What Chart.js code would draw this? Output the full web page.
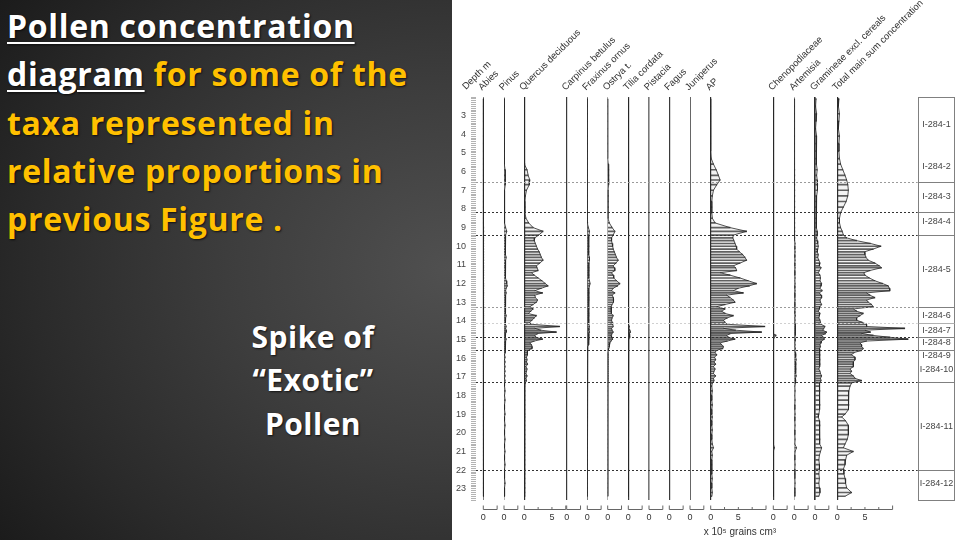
<!DOCTYPE html>
<html>
<head>
<meta charset="utf-8">
<script src="https://cdn.jsdelivr.net/npm/chart.js@4.4.1/dist/chart.umd.min.js"></script>
<style>
html,body{margin:0;padding:0;width:960px;height:540px;overflow:hidden;background:#fff;}
#left{position:absolute;left:0;top:0;width:452px;height:540px;
  background:radial-gradient(ellipse 560px 460px at 450px 270px,#505050 0%,#3d3d3d 40%,#2a2a2a 75%,#1b1b1b 100%);}
.t{position:absolute;font-family:'Open Sans',Lato,sans-serif;font-weight:bold;white-space:nowrap;
  text-shadow:1px 1px 2px rgba(0,0,0,0.7);}
#title{left:7px;top:2px;font-size:32px;line-height:48.3px;color:#FFC000;letter-spacing:0.7px;}
#title u{color:#fff;text-decoration-thickness:2px;text-underline-offset:4px;}
#spike{left:213px;top:315px;width:200px;text-align:center;font-size:30px;line-height:43.3px;color:#fff;letter-spacing:0.5px;}
#wrap{position:absolute;left:452px;top:0;width:508px;height:540px;background:#fff;}
</style>
</head>
<body>
<div id="left">
  <div id="title" class="t"><u>Pollen concentration</u><br><u>diagram</u> for some of the<br>taxa represented in<br>relative proportions in<br>previous Figure .</div>
  <div id="spike" class="t">Spike of<br>“Exotic”<br>Pollen</div>
</div>
<div id="wrap"><canvas id="c" width="508" height="540"></canvas></div>
<script>
// ---------------- DATA ----------------
const taxa = ['Abies','Pinus','Quercus deciduous','Carpinus betulus','Fraxinus ornus','Ostrya t.','Tilia cordata','Pistacia','Fagus','Juniperus','AP','Chenopodiaceae','Artemisia','Gramineae excl. cereals','Total main sum concentration'];
const depthTitle = 'Depth m';
const unitLabel = 'x 10⁵ grains cm³';

const depths = [2.1,2.5,2.9,3.3,3.7,4.1,4.5,4.9,5.3,5.6,
 5.9,6.2,6.45,6.7,7.0,7.3,7.6,7.9,8.2,8.5,
 8.75,9.0,9.2,9.4,9.55,9.7,9.85,10.0,10.15,10.3,
 10.45,10.6,10.75,10.9,11.05,11.15,11.3,11.42,11.55,11.7,
 11.85,12.0,12.12,12.25,12.38,12.5,12.62,12.75,12.88,13.0,
 13.12,13.24,13.36,13.48,13.6,13.72,13.84,13.96,14.08,14.18,
 14.3,14.4,14.5,14.6,14.68,14.78,14.88,14.98,15.08,15.18,
 15.28,15.38,15.48,15.58,15.7,15.82,15.95,16.08,16.2,16.32,
 16.45,16.58,16.7,16.82,16.95,17.08,17.2,17.32,17.5,17.75,
 18.0,18.25,18.5,18.75,19.0,19.15,19.35,19.6,19.85,20.1,
 20.35,20.6,20.8,21.0,21.2,21.45,21.7,21.95,22.2,22.45,
 22.7,22.95,23.2,23.4];

const abies = [0,0,0,0,0,0,0,0,0,0,
 0,0,0,0,0,0,0,0,0,0,
 0,0.05,0.1,0.05,0.05,0.05,0.05,0.05,0.05,0.05,
 0.05,0.05,0.1,0.05,0.05,0.05,0.1,0.05,0.05,0.05,
 0.05,0.1,0.1,0.05,0.05,0.1,0.05,0.05,0.05,0.05,
 0.05,0.05,0.05,0.05,0.05,0.1,0.05,0.05,0.05,0.05,
 0.1,0.05,0.1,0.1,0.05,0.1,0.05,0.05,0.05,0.05,
 0.05,0.05,0.05,0,0,0,0,0,0,0,
 0,0,0,0,0,0,0,0,0,0,
 0,0,0,0,0,0,0,0,0,0,
 0,0,0,0,0,0,0,0,0,0,
 0,0,0,0];
const pinus = [0.05,0.05,0.05,0.05,0.05,0.05,0.05,0.05,0.05,0.1,
 0.2,0.2,0.3,0.2,0.1,0.1,0.1,0.1,0.1,0.1,
 0.1,0.3,0.5,0.3,0.2,0.2,0.3,0.3,0.2,0.3,
 0.3,0.4,0.3,0.3,0.2,0.3,0.3,0.2,0.3,0.3,
 0.4,0.5,0.6,0.4,0.3,0.4,0.3,0.3,0.3,0.3,
 0.3,0.2,0.3,0.2,0.3,0.4,0.3,0.2,0.3,0.3,
 0.4,0.3,0.4,0.4,0.3,0.2,0.3,0.4,0.3,0.2,
 0.3,0.2,0.3,0.2,0.2,0.1,0.2,0.1,0.2,0.1,
 0.2,0.1,0.2,0.1,0.2,0.1,0.2,0.1,0.1,0.2,
 0.1,0.2,0.1,0.1,0.2,0.1,0.1,0.2,0.1,0.1,
 0.2,0.1,0.1,0.2,0.1,0.1,0.2,0.1,0.1,0.1,
 0.2,0.1,0.1,0.1];
const quercus = [0,0,0,0,0,0,0,0,0,0.1,
 0.5,0.7,1.0,0.9,0.4,0.2,0.1,0.1,0.1,0.3,
 0.8,1.6,3.4,2.6,1.9,1.8,2.0,2.2,2.4,2.7,
 2.9,3.1,3.4,2.8,2.2,2.3,2.5,1.3,1.8,2.5,
 3.2,3.8,4.3,3.1,1.9,3.3,1.9,2.0,2.4,2.2,
 1.6,1.0,1.6,1.2,0.7,2.2,1.8,1.4,1.0,1.2,
 6.4,1.9,3.0,5.8,2.4,1.9,2.1,3.3,1.8,1.0,
 1.3,1.4,1.4,0.6,0.5,0.6,0.4,0.5,0.4,0.6,
 0.3,0.5,0.4,0.3,0.5,0.3,0.4,0.2,0.1,0.05,
 0.1,0.05,0.05,0.1,0.05,0.05,0.1,0.05,0.05,0.05,
 0.1,0.05,0.05,0.05,0.05,0.05,0.05,0.05,0.05,0.05,
 0.05,0.05,0.05,0.05];
const carpinus = [];
const fraxinus = [0,0,0,0,0,0,0,0,0,0,
 0,0,0,0,0,0,0,0,0,0,
 0.05,0.2,0.4,0.3,0.2,0.2,0.2,0.3,0.2,0.3,
 0.3,0.4,0.4,0.3,0.2,0.3,0.3,0.2,0.3,0.3,
 0.4,0.5,0.4,0.3,0.2,0.3,0.2,0.3,0.3,0.2,
 0.2,0.2,0.3,0.2,0.3,0.3,0.2,0.3,0.3,0.3,
 0.4,0.3,0.3,0.4,0.3,0.3,0.3,0.3,0.2,0.2,
 0.2,0.1,0.1,0.05,0,0,0,0,0,0,
 0,0,0,0,0,0,0,0,0,0,
 0,0,0,0,0,0,0,0,0,0,
 0,0,0,0,0,0,0,0,0,0,
 0,0,0,0];
const ostrya = [0,0,0,0,0,0,0,0,0,0.1,
 0.2,0.2,0.2,0.1,0.05,0.05,0.05,0.05,0.05,0.05,
 0.3,0.8,1.3,1.0,0.7,0.7,0.8,0.9,1.0,1.2,
 1.4,1.6,1.9,1.5,1.0,1.2,1.3,0.7,1.0,1.1,
 1.6,2.2,1.8,1.0,0.7,1.3,0.8,1.0,1.1,1.0,
 0.8,0.6,0.7,0.6,0.7,1.0,0.8,0.7,0.8,0.9,
 1.0,0.7,0.8,1.0,0.8,0.6,0.7,0.9,0.6,0.4,
 0.3,0.3,0.2,0.1,0.05,0.05,0.05,0.05,0.05,0.05,
 0.05,0.05,0.05,0.05,0.05,0.05,0.05,0,0,0,
 0,0,0,0,0,0,0,0,0,0,
 0,0,0,0,0,0,0,0,0,0,
 0,0,0,0];
const tilia = [0,0,0,0,0,0,0,0,0,0,
 0,0,0,0,0,0,0,0,0,0,
 0,0,0,0,0,0,0,0,0,0,
 0,0,0,0,0,0,0,0,0,0,
 0,0,0,0,0,0,0,0,0,0,
 0,0,0,0,0,0,0,0,0,0,
 0.2,0.1,0.3,0.4,0.2,0.2,0.3,0.1,0,0,
 0,0,0,0,0,0,0,0,0,0,
 0,0,0,0,0,0,0,0,0,0,
 0,0,0,0,0,0,0,0,0,0,
 0,0,0,0,0,0,0,0,0,0,
 0,0,0,0];
const pistacia = [];
const fagus = [];
const juniperus = [];
const ap = [0,0,0,0,0,0,0,0,0.1,0.5,
 1.0,1.4,1.7,1.1,0.5,0.3,0.2,0.2,0.2,0.3,
 0.8,3.5,6.5,4.1,4.0,4.2,4.4,4.6,4.7,5.2,
 5.8,6.2,6.5,5.3,4.1,4.5,4.7,1.7,3.5,5.3,
 6.8,8.3,7.0,5.0,4.1,5.9,2.9,3.5,4.1,4.4,
 2.6,1.1,2.6,2.0,2.6,4.1,3.0,2.3,2.6,2.9,
 9.8,2.3,4.5,9.2,3.5,2.9,3.2,4.4,3.0,1.7,
 2.0,2.3,2.2,1.0,0.8,1.1,0.7,0.9,0.6,0.9,
 0.5,0.8,0.6,0.5,0.9,0.5,0.6,0.3,0.2,0.3,
 0.2,0.2,0.3,0.2,0.2,0.3,0.2,0.2,0.3,0.2,
 0.2,0.3,0.5,0.2,0.3,0.2,0.2,0.2,0.2,0.3,
 0.2,0.2,0.3,0.2];
const chenopodiaceae = [0,0,0,0,0,0,0,0,0,0,
 0,0,0,0,0,0,0,0,0,0,
 0,0,0,0,0,0,0,0,0,0,
 0,0,0,0,0,0,0,0,0,0,
 0,0,0,0,0,0,0,0,0,0,
 0,0,0,0,0,0,0,0,0,0,
 0,0,0,0,0,0.5,0.2,0,0,0,
 0,0,0,0,0,0,0,0,0,0,
 0,0,0,0,0,0,0,0,0,0,
 0,0,0,0,0,0,0,0,0,0,
 0,0,0.2,0,0,0,0,0,0,0,
 0,0,0,0];
const artemisia = [0,0,0,0,0,0,0,0,0,0,
 0.05,0.05,0.05,0.05,0.05,0.05,0.05,0.05,0.05,0.05,
 0.05,0.1,0.1,0.1,0.1,0.1,0.15,0.1,0.1,0.15,
 0.1,0.1,0.15,0.1,0.1,0.15,0.1,0.1,0.1,0.15,
 0.1,0.15,0.1,0.1,0.15,0.1,0.1,0.1,0.15,0.1,
 0.1,0.1,0.15,0.1,0.1,0.2,0.1,0.15,0.1,0.2,
 0.2,0.15,0.2,0.15,0.2,0.15,0.1,0.2,0.15,0.1,
 0.15,0.1,0.2,0.1,0.2,0.3,0.2,0.35,0.25,0.3,
 0.2,0.3,0.25,0.2,0.35,0.2,0.3,0.15,0.1,0.15,
 0.1,0.15,0.1,0.1,0.15,0.1,0.1,0.15,0.1,0.1,
 0.15,0.1,0.4,0.15,0.1,0.1,0.15,0.1,0.1,0.1,
 0.15,0.1,0.1,0.1];
const gramineae = [0.2,0.1,0.3,0.2,0.1,0.3,0.2,0.2,0.3,0.3,
 0.4,0.3,0.4,0.5,0.4,0.3,0.3,0.2,0.2,0.2,
 0.3,0.3,0.4,0.4,0.3,0.4,0.5,0.6,0.5,0.4,
 0.6,0.5,0.7,0.9,0.8,1.1,0.8,0.6,0.9,1.0,
 0.9,1.2,1.1,0.9,1.3,0.8,1.1,1.2,0.9,1.0,
 1.2,0.9,0.8,0.6,0.9,0.8,0.7,0.9,1.0,1.1,
 1.8,1.6,1.4,2.1,1.9,1.2,1.5,1.7,1.2,1.1,
 0.9,1.0,0.8,0.9,0.8,0.9,0.8,0.9,0.8,0.9,
 0.8,0.7,0.9,1.0,1.2,1.0,1.1,0.8,0.8,0.9,
 0.8,0.8,0.9,0.8,0.7,0.6,0.8,0.9,0.8,0.8,
 0.9,0.8,1.2,1.0,0.8,0.7,0.8,0.8,0.7,0.8,
 0.7,0.8,0.9,0.7];
const total = [0.3,0.2,0.4,0.3,0.2,0.4,0.3,0.3,0.4,0.6,
 1.0,1.4,1.7,1.9,2.0,1.9,1.6,1.1,0.6,0.4,
 0.4,0.6,0.9,1.1,1.7,3.5,6.0,7.9,6.5,4.9,
 5.0,5.2,5.6,6.8,7.6,8.0,5.9,4.8,5.0,5.8,
 6.8,8.2,9.2,9.4,9.5,5.3,5.9,6.8,5.3,5.6,
 6.2,6.5,2.9,3.5,4.7,4.1,3.5,3.5,4.5,5.3,
 5.3,12.2,5.0,6.0,4.4,6.5,9.5,12.8,5.3,4.1,
 4.4,4.4,4.7,4.4,3.0,2.6,3.2,3.2,2.9,2.9,
 2.9,2.3,2.6,2.3,2.9,3.2,4.4,2.6,2.3,2.1,
 2.0,2.0,2.1,2.0,1.4,0.8,1.5,2.0,2.0,2.0,
 1.8,1.4,1.1,2.9,1.7,1.5,1.4,1.1,1.2,1.4,
 1.5,1.7,2.6,1.4];

const depthMin = 2.0, depthMax = 23.6;
const zoneNames = ['I-284-1','I-284-2','I-284-3','I-284-4','I-284-5','I-284-6','I-284-7','I-284-8','I-284-9','I-284-10','I-284-11','I-284-12'];
const zoneLabelDepths = [3.45,5.75,7.32,8.68,11.27,13.72,14.49,15.17,15.83,16.63,19.65,22.72];
const zoneBoundaries = [6.54,8.14,9.39,13.23,14.09,14.84,15.55,17.25,21.98];
const boundaryStyle = ['light','strong','strong','light','faint','strong','strong','strong','strong'];
const bracketMax = [2.5,2.5,7.5,2.5,2.5,2.5,2.5,2.5,2.5,2.5,10,2.5,2.5,2.5,10];
const shownScaleLabels = [0,5];

// ---------------- LAYOUT / STYLE ----------------
const FF = "'Liberation Sans', Arial, sans-serif";
const UNIT_PX = 5.53;
const colWidthPx = [28,20.3,42.4,20.6,20.4,20.6,20.7,20.3,20.7,20.7,62.6,21,20.7,22.3,80.4];
const colOffsetPx = [7.3,0,0,0,0,0,0,0,0,0,0,0,0,0,0];
const zoneWidthPx = 37.6;
const lineColors = ['#7a7a7a','#b0b0b0','#2e2e2e','#3a3a3a','#7a7a7a','#b0b0b0','#3a3a3a','#777','#3a3a3a','#666','#2e2e2e','#3a3a3a','#b0b0b0','#2e2e2e','#2e2e2e'];
const lineWidths = [1,1,1.2,1.2,1,1,1.2,1.6,1.2,1,1.2,1.2,1,1.6,1.2];
const TOP_H = 97, BOTTOM_H = 40, YAXIS_W = 24, BRACKET_STEP = 2.5;
const AP_INDEX = 10;

Chart.defaults.font.family = FF;
Chart.defaults.font.size = 9;
Chart.defaults.color = '#333';

const series = [abies,pinus,quercus,carpinus,fraxinus,ostrya,tilia,pistacia,fagus,juniperus,ap,chenopodiaceae,artemisia,gramineae,total];
const N = taxa.length;

const scales = {
  y: {
    type:'linear', position:'left', reverse:true, min:depthMin, max:depthMax, offset:false,
    afterFit: s => { s.width = YAXIS_W; },
    ticks: { stepSize:0.1, autoSkip:false, padding:5, color:'#444', font:{size:9},
      callback: v => (Math.abs(v - Math.round(v)) < 1e-6 && v >= 3) ? String(Math.round(v)) : '' },
    grid: { drawOnChartArea:false, drawTicks:true, tickLength:5, color:'#a0a0a0', lineWidth:0.8, offset:false },
    border: { display:false }
  }
};
for (let i = 0; i < N; i++) {
  const min = -colOffsetPx[i] / UNIT_PX;
  const max = (colWidthPx[i] - colOffsetPx[i]) / UNIT_PX;
  const bt = [];
  for (let v = 0; v <= bracketMax[i] + 1e-9; v += BRACKET_STEP) bt.push(v);
  scales['b' + i] = {
    type:'linear', axis:'x', position:'bottom', stack:'cols', stackWeight:colWidthPx[i], weight:i,
    min, max, offset:false,
    afterBuildTicks: s => { s.ticks = bt.map(v => ({value:v})); },
    afterFit: s => { s.height = BOTTOM_H; s.paddingLeft = 0; s.paddingRight = 0; },
    ticks: { autoSkip:false, minRotation:0, maxRotation:0, padding:12, color:'#333', font:{size:9},
      callback: v => shownScaleLabels.includes(v) ? String(v) : '' },
    grid: { drawTicks:false, color: c => (c.tick && c.tick.value === 0) ? lineColors[i] : 'rgba(0,0,0,0)', lineWidth: lineWidths[i] },
    border: { display:false }
  };
  scales['t' + i] = {
    type:'linear', axis:'x', position:'top', stack:'heads', stackWeight:colWidthPx[i], weight:100 - i,
    min, max, offset:false,
    afterBuildTicks: s => { s.ticks = [{value:0}]; },
    afterFit: s => { s.height = TOP_H; s.paddingLeft = 0; s.paddingRight = 0; },
    ticks: { autoSkip:false, minRotation:45, maxRotation:45, padding:4, labelOffset:5, color:'#333', font:{size:9.5},
      callback: () => taxa[i] },
    grid: { display:false, drawTicks:false },
    border: { display:false }
  };
}
scales.bz = { type:'linear', axis:'x', position:'bottom', stack:'cols', stackWeight:zoneWidthPx, weight:N, min:0, max:1,
  afterFit: s => { s.height = BOTTOM_H; s.paddingLeft = 0; s.paddingRight = 0; },
  ticks:{display:false}, grid:{display:false, drawTicks:false}, border:{display:false} };
scales.tz = { type:'linear', axis:'x', position:'top', stack:'heads', stackWeight:zoneWidthPx, weight:100 - N, min:0, max:1,
  afterFit: s => { s.height = TOP_H; s.paddingLeft = 0; s.paddingRight = 0; },
  ticks:{display:false}, grid:{display:false, drawTicks:false}, border:{display:false} };

const datasets = [];
series.forEach((vals, i) => {
  if (!vals.length) return;
  const pts = vals.map((v, k) => ({x:v, y:depths[k]}));
  datasets.push({ type:'line', label:taxa[i], data:pts, xAxisID:'b' + i, yAxisID:'y', indexAxis:'y',
    borderColor:'#262626', borderWidth:0.8, pointRadius:0, tension:0, fill:'origin',
    backgroundColor:'rgba(80,80,80,0.07)', order:1 });
  datasets.push({ type:'bar', label:taxa[i] + ' samples', data:pts, xAxisID:'b' + i, yAxisID:'y', indexAxis:'y',
    grouped:false, barThickness:1, backgroundColor:'rgba(30,30,30,0.7)', borderWidth:0, order:2 });
});

const overlay = {
  id:'overlay',
  afterDatasetsDraw(chart) {
    const {ctx, chartArea:a, scales:s} = chart;
    const ys = s.y, zs = s.bz;
    ctx.save();
    ctx.lineWidth = 1;
    zoneBoundaries.forEach((d, k) => {
      const py = Math.round(ys.getPixelForValue(d)) + 0.5;
      ctx.setLineDash([2, 2]);
      ctx.strokeStyle = boundaryStyle[k] === 'strong' ? '#333' : (boundaryStyle[k] === 'light' ? '#9a9a9a' : '#d0d0d0');
      ctx.beginPath(); ctx.moveTo(a.left, py); ctx.lineTo(zs.left, py); ctx.stroke();
    });
    ctx.setLineDash([]);
    const top = ys.getPixelForValue(depthMin), bot = ys.getPixelForValue(depthMax);
    const zl = Math.round(zs.left) + 0.5, zr = Math.round(zs.right) - 0.5;
    ctx.strokeStyle = '#808080';
    ctx.strokeRect(zl, Math.round(top) + 0.5, zr - zl, Math.round(bot - top));
    zoneBoundaries.forEach((d, k) => {
      ctx.strokeStyle = boundaryStyle[k] === 'faint' ? '#b0b0b0' : '#808080';
      const py = Math.round(ys.getPixelForValue(d)) + 0.5;
      ctx.beginPath(); ctx.moveTo(zl, py); ctx.lineTo(zr, py); ctx.stroke();
    });
    ctx.fillStyle = '#444';
    ctx.font = '9px ' + FF;
    ctx.textAlign = 'center'; ctx.textBaseline = 'middle';
    zoneNames.forEach((n, k) => ctx.fillText(n, (zl + zr) / 2, ys.getPixelForValue(zoneLabelDepths[k])));
    ctx.restore();
  },
  afterDraw(chart) {
    const {ctx, chartArea:a, scales:s} = chart;
    ctx.save();
    ctx.strokeStyle = '#666'; ctx.lineWidth = 1;
    for (let i = 0; i < N; i++) {
      const sc = s['b' + i];
      const yb = Math.round(a.bottom + 9) + 0.5;
      const x0 = sc.getPixelForValue(0), x1 = sc.getPixelForValue(bracketMax[i]);
      ctx.beginPath(); ctx.moveTo(x0, yb); ctx.lineTo(x1, yb); ctx.stroke();
      sc.ticks.forEach(t => {
        const px = sc.getPixelForValue(t.value);
        const len = (t.value === 0 || t.value === bracketMax[i]) ? 4 : 2.5;
        ctx.beginPath(); ctx.moveTo(px, yb); ctx.lineTo(px, yb - len); ctx.stroke();
      });
    }
    // unit caption under the AP column
    const apScale = s['b' + AP_INDEX];
    ctx.fillStyle = '#333'; ctx.font = '10px ' + FF;
    ctx.textAlign = 'left'; ctx.textBaseline = 'middle';
    ctx.fillText(unitLabel, apScale.getPixelForValue(0) - 7, a.bottom + 32);
    // depth axis heading
    const ys = s.y;
    ctx.translate(ys.right - 10, a.top - 7);
    ctx.rotate(-Math.PI / 4);
    ctx.fillStyle = '#333'; ctx.font = '9.5px ' + FF;
    ctx.textBaseline = 'alphabetic';
    ctx.fillText(depthTitle, 0, 0);
    ctx.restore();
  }
};

new Chart(document.getElementById('c'), {
  type:'line',
  data:{ datasets },
  options:{
    responsive:false, animation:false, events:[], indexAxis:'y', devicePixelRatio:1,
    layout:{ padding:{ left:0, right:4.7, top:0, bottom:0 } },
    plugins:{ legend:{display:false}, tooltip:{enabled:false} },
    scales
  },
  plugins:[overlay]
});
</script>
</body>
</html>
